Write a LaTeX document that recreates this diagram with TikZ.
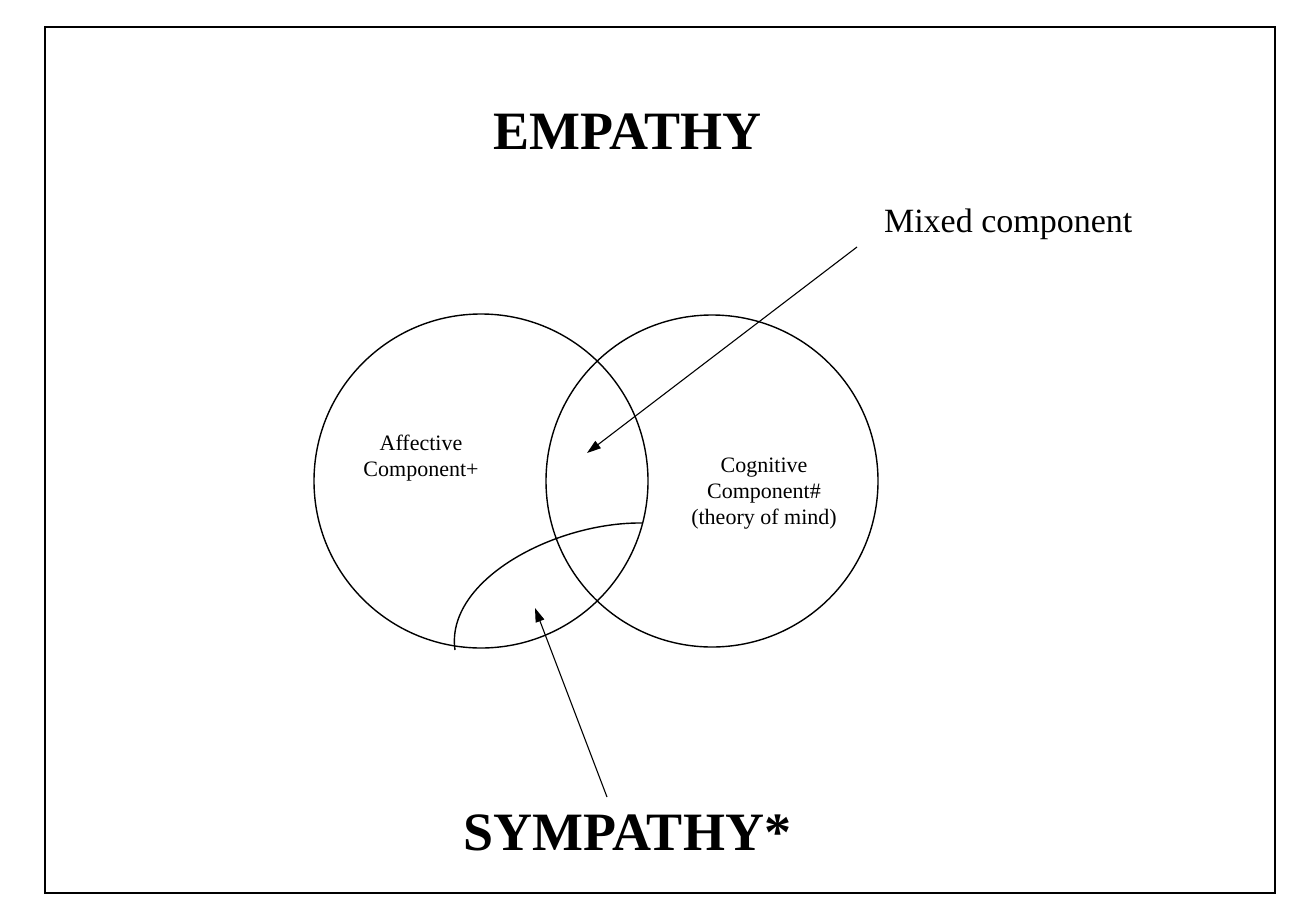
\documentclass[tikz,border=0pt]{standalone}
\usepackage{fontspec}
\setmainfont{Liberation Serif}
\usetikzlibrary{arrows.meta}
\begin{document}
\begin{tikzpicture}[x=1pt,y=-1pt,line width=1.4pt,
  arr/.style={-{Triangle[length=14pt,width=9pt]},line width=1.1pt},
  lbl/.style={font=\fontsize{22}{26}\selectfont,align=center}]
\useasboundingbox (0,0) rectangle (1293,899);
\draw[line width=1.6pt] (45,27) rectangle (1275,893);
\node[font=\fontsize{54}{60}\selectfont\bfseries] (emp) at (627,132) {EMPATHY};
\node[font=\fontsize{54}{60}\selectfont\bfseries] (sym) at (627,833) {SYMPATHY*};
\node[font=\fontsize{34}{40}\selectfont,anchor=west] (mix) at (880,224) {Mixed component};
\draw (481,481) circle[radius=167];
\draw (712,481) circle[radius=166];
\node[lbl] (aff) at (421,458) {Affective\\Component+};
\node[lbl] (cog) at (764,494) {Cognitive\\Component\#\\(theory of mind)};
\draw (455,650) .. controls (445,580) and (555,522) .. (642,523);
\coordinate (m1) at (857,247);
\coordinate (m2) at (587,453);
\coordinate (s1) at (607,797);
\coordinate (s2) at (535,608);
\draw[arr] (m1) -- (m2);
\draw[arr] (s1) -- (s2);
\end{tikzpicture}
\end{document}
